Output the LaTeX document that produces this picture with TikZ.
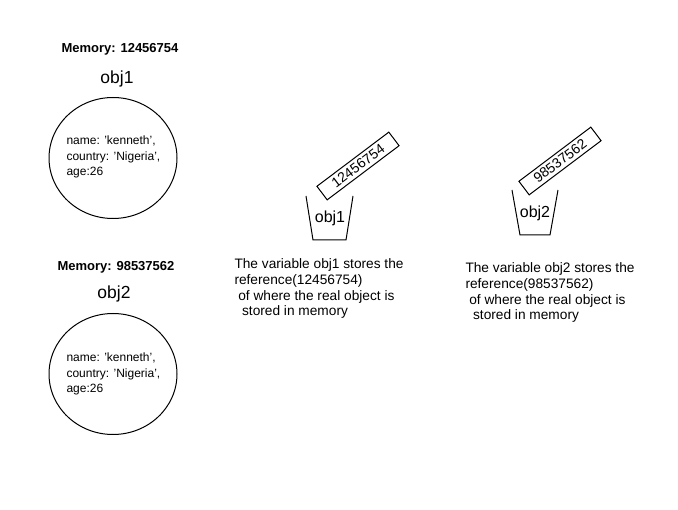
\documentclass[tikz,border=0pt]{standalone}
\usepackage{fontspec}
\setmainfont{Liberation Sans}
\usetikzlibrary{shapes.geometric}
\begin{document}
\begin{tikzpicture}[x=1pt,y=-1pt,line width=1pt,
  body/.style={font=\fontsize{13.7}{15.8}\selectfont,align=left,inner sep=0pt},
  ctext/.style={font=\fontsize{12}{15.5}\selectfont,align=left,inner sep=0pt},
  mem/.style={font=\bfseries\fontsize{13}{15}\selectfont},
  big/.style={font=\fontsize{17.5}{20}\selectfont},
  circ/.style={draw,ellipse,minimum width=128pt,minimum height=121pt,inner sep=0pt},
  tag/.style={draw,minimum width=90pt,minimum height=17pt,inner sep=0pt,rotate=37,font=\fontsize{14}{16}\selectfont}]
\useasboundingbox (0,0) rectangle (678,510);
\node[mem] (m1) at (120,49) {Memory: 12456754};
\node[big] (o1) at (117,79) {obj1};
\node[circ] (c1) at (113,158) {};
\node[ctext,anchor=west] (t1) at (66,157) {name: 'kenneth',\\country: 'Nigeria',\\age:26};
\node[mem] (m2) at (116,267) {Memory: 98537562};
\node[big] (o2) at (114,294) {obj2};
\node[circ] (c2) at (113,374) {};
\node[ctext,anchor=west] (t2) at (66,374) {name: 'kenneth',\\country: 'Nigeria',\\age:26};
% cups
\draw (306,196) -- (313,240) -- (346,240) -- (353,196);
\node[font=\fontsize{16}{18}\selectfont] (k1) at (330,218) {obj1};
\draw (512,190) -- (520,235) -- (550,235) -- (558,190);
\node[font=\fontsize{16}{18}\selectfont] (k2) at (535,213) {obj2};
\node[tag] (r1) at (358,166) {12456754};
\node[tag] (r2) at (560,161) {98537562};
\node[body,anchor=north west] (d1) at (234,258) {The variable obj1 stores the\\reference(12456754)\\ \ of where the real object is\\ \ \ stored in memory};
\node[body,anchor=north west] (d2) at (465,262) {The variable obj2 stores the\\reference(98537562)\\ \ of where the real object is\\ \ \ stored in memory};
\end{tikzpicture}
\end{document}
